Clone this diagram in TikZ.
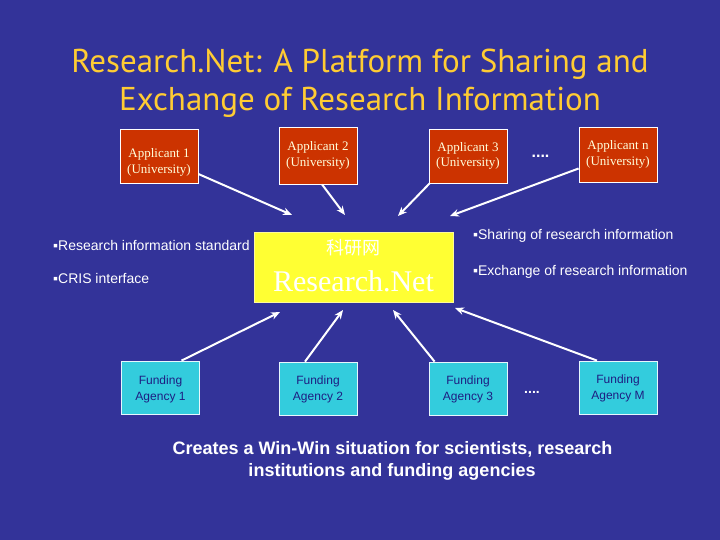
\documentclass[tikz,border=0pt]{standalone}
\usepackage{fontspec}
\setmainfont{Liberation Serif}
\setsansfont{Liberation Sans}
\newfontfamily\titlefont{PT Sans}
\newfontfamily\cjk{Noto Sans CJK SC}
\usetikzlibrary{arrows.meta}
\definecolor{bg}{RGB}{51,51,153}
\definecolor{titleyellow}{RGB}{255,204,51}
\definecolor{appred}{RGB}{204,51,0}
\definecolor{appcream}{RGB}{255,255,220}
\definecolor{fundcyan}{RGB}{51,204,221}
\definecolor{fundtext}{RGB}{30,30,130}
\definecolor{coreyellow}{RGB}{255,255,51}
\tikzset{
  appbox/.style={draw=white, line width=0.8pt, fill=appred, text=appcream,
    minimum width=78pt, minimum height=55pt, align=center, inner sep=0pt,
    font=\rmfamily\fontsize{13}{15.5}\selectfont},
  apptext/.style={text=appcream, align=center, inner sep=0pt,
    font=\rmfamily\fontsize{13}{15.5}\selectfont},
  fundbox/.style={draw=white!90!cyan, line width=0.8pt, fill=fundcyan,
    minimum width=78pt, minimum height=53pt, inner sep=0pt},
  fundtextstyle/.style={text=fundtext, align=center, inner sep=0pt,
    font=\sffamily\fontsize{12}{16}\selectfont},
  corebox/.style={draw=white!60!yellow, line width=0.8pt, fill=coreyellow,
    minimum width=199pt, minimum height=70pt, inner sep=0pt},
  arr/.style={draw=white, line width=2pt, -{Stealth[length=9pt,width=7.5pt]}},
  bullettext/.style={text=white, anchor=base west, inner sep=0pt,
    font=\sffamily\fontsize{14}{16}\selectfont},
  titletext/.style={text=titleyellow, anchor=base, inner sep=0pt,
    font=\titlefont\fontsize{33}{38}\selectfont},
  bottomtext/.style={text=white, anchor=base, inner sep=0pt,
    font=\sffamily\bfseries\fontsize{18}{22}\selectfont},
  dots/.style={anchor=base, inner sep=0pt, text=white, font=\sffamily\bfseries\fontsize{14}{16}\selectfont}
}
\begin{document}
\begin{tikzpicture}[x=1pt,y=-1pt]
\fill[bg] (0,0) rectangle (720,540);
\useasboundingbox (0,0) rectangle (720,540);

% title
\node[titletext] (t1) at (360,73) {Research.Net: A Platform for Sharing and};
\node[titletext] (t2) at (360,111) {Exchange of Research Information};

% applicants
\node[appbox, minimum height=54pt] (a1) at (159,156) {};
\node[apptext] (a1t) at (159,162.5) {Applicant 1\\(University)};
\node[appbox, minimum height=57pt] (a2) at (318,155.5) {Applicant 2\\(University)};
\node[appbox, minimum height=54pt] (a3) at (468,156) {Applicant 3\\(University)};
\node[appbox] (an) at (618,154.5) {Applicant n\\(University)};
\node[dots, font=\sffamily\bfseries\fontsize{16}{18}\selectfont] (d1) at (540.5,158) {....};

% core
\node[corebox] (core) at (353.5,267) {};
\node[text=white, inner sep=0pt, font=\cjk\fontsize{18}{20}\selectfont] (cn) at (353.5,248) {科研网};
\node[text=white, inner sep=0pt, anchor=base, font=\rmfamily\fontsize{30}{34}\selectfont] (rn) at (353.5,291) {Research.Net};

% bullets
\node[bullettext] (b1) at (53,250) {▪Research information standard};
\node[bullettext] (b2) at (53,283) {▪CRIS interface};
\node[bullettext] (b3) at (473,240) {▪Sharing of research information};
\node[bullettext] (b4) at (473,275) {▪Exchange of research information};

% funding
\node[fundbox] (f1) at (160.5,387.5) {};
\node[fundtextstyle] (f1t) at (160.5,389.5) {Funding\\Agency 1};
\node[fundbox] (f2) at (318,388.5) {};
\node[fundtextstyle] (f2t) at (318,389.5) {Funding\\Agency 2};
\node[fundbox] (f3) at (468,388.5) {};
\node[fundtextstyle] (f3t) at (468,389.5) {Funding\\Agency 3};
\node[fundbox] (fm) at (618,387.5) {};
\node[fundtextstyle] (fmt) at (618,388) {Funding\\Agency M};
\node[dots] (d2) at (532,393) {....};

% arrow ends
\coordinate (e1) at (292,215);
\coordinate (e2) at (345,215);
\coordinate (e3) at (398,216);
\coordinate (e4) at (450,216);
\coordinate (g1) at (280,312);
\coordinate (g2) at (343,310);
\coordinate (g3) at (393,310);
\coordinate (g4) at (455,308);

\draw[arr] ([yshift=-18pt]a1.east) -- (e1);
\draw[arr] ([xshift=4pt]a2.south) -- (e2);
\draw[arr] ([xshift=1pt]a3.south west) -- (e3);
\draw[arr] ([yshift=-14pt]an.west) -- (e4);
\draw[arr] ([xshift=21pt]f1.north) -- (g1);
\draw[arr] ([xshift=-13pt]f2.north) -- (g2);
\draw[arr] ([xshift=6pt]f3.north west) -- (g3);
\draw[arr] ([xshift=-21pt]fm.north) -- (g4);

% bottom text
\node[bottomtext] (c1) at (392.5,454) {Creates a Win-Win situation for scientists, research};
\node[bottomtext] (c2) at (392,476) {institutions and funding agencies};
\end{tikzpicture}
\end{document}
